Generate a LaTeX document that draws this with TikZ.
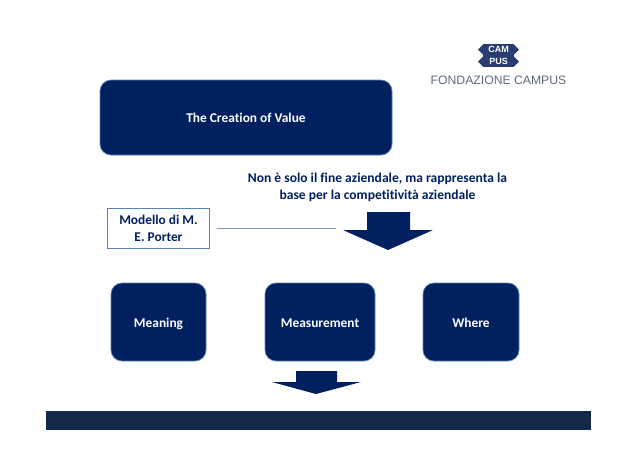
\documentclass[tikz,border=0pt]{standalone}
\usepackage{fontspec}
\setmainfont[Ligatures=NoCommon]{Carlito}
\newfontfamily\logofont{Liberation Sans}
\usetikzlibrary{positioning}
\definecolor{navy}{HTML}{002060}
\definecolor{rim}{HTML}{5B82B5}
\definecolor{barblue}{HTML}{14284A}
\definecolor{logoblue}{HTML}{2A3D70}
\definecolor{logogray}{HTML}{5F6B7C}
\tikzset{
  bluebox/.style={draw=rim,line width=0.7pt,fill=navy,rounded corners=11pt,
    text=white,font=\bfseries\fontsize{13.4}{16}\selectfont,align=center,inner sep=0pt,
    text height=11pt,text depth=1pt},
  notebox/.style={draw=rim,line width=0.8pt,fill=white,text=navy,
    font=\bfseries\fontsize{13.4}{17}\selectfont,align=center,inner sep=0pt},
  navytext/.style={text=navy,font=\bfseries\fontsize{13.55}{17}\selectfont,align=center},
  blockarrow/.style={fill=navy,draw=none},
  logotext/.style={text=white,font=\logofont\bfseries\fontsize{9}{9}\selectfont,inner sep=0pt}
}
\begin{document}
\begin{tikzpicture}[x=1pt,y=-1pt]
\useasboundingbox (0,0) rectangle (638,451);

\node[bluebox,minimum width=292pt,minimum height=75pt] (value) at (246,117.5) {The Creation of Value};
\node[navytext] (why) at (377.5,187) {Non è solo il fine aziendale, ma rappresenta la\\base per la competitività aziendale};
\node[notebox,minimum width=102pt,minimum height=40pt] (porter) at (158.5,228.5) {Modello di M.\\E. Porter};

\node[bluebox,minimum width=95pt,minimum height=78pt] (meaning) at (158.5,322) {Meaning};
\node[bluebox,minimum width=110pt,minimum height=78pt] (measurement) at (320,322) {Measurement};
\node[bluebox,minimum width=96pt,minimum height=78pt] (where) at (471,322) {Where};

\coordinate (linestop) at (336,228.5);
\draw[rim!80,line width=0.8pt,shorten <=7pt] (porter.east) -- (linestop);

% big arrow under the text
\draw[blockarrow] (367,212)--++(43,0)--++(0,18)--++(23,0)--++(-45,20)--++(-45,-20)--++(24,0)--cycle;
% small arrow towards the bar
\draw[blockarrow] (296,371)--++(41,0)--++(0,11)--++(24,0)--++(-45,12)--++(-44,-12)--++(24,0)--cycle;

\fill[barblue] (46,411) rectangle (591,430);

% logo
\fill[logoblue] (483,44) rectangle (514,67);
\foreach \ypos in {49.5,61.5}{
  \fill[logoblue] (483,\ypos-5)--++(-5,5)--++(5,5)--cycle;
  \fill[logoblue] (514,\ypos-5)--++(5,5)--++(-5,5)--cycle;
}
\node[logotext] (cam) at (498.5,49.5) {CAM};
\node[logotext] (pus) at (498.5,61.5) {PUS};
\node[text=logogray,font=\logofont\fontsize{12.2}{15}\selectfont,inner sep=0pt] (campus) at (498.5,80) {FONDAZIONE CAMPUS};
\end{tikzpicture}
\end{document}
